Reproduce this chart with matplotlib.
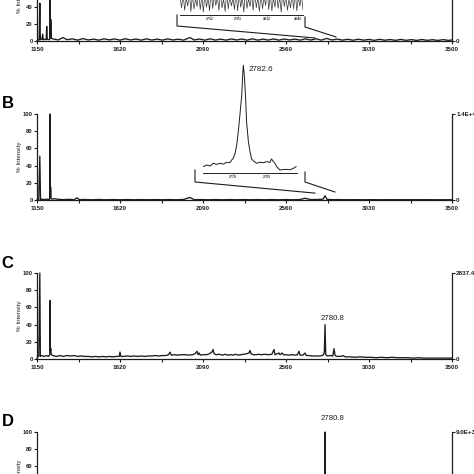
import numpy as np
import matplotlib
matplotlib.use("Agg")
import matplotlib.pyplot as plt
from matplotlib.lines import Line2D

plt.rcParams['font.family'] = ['Liberation Sans', 'DejaVu Sans']
plt.rcParams['font.weight'] = 'bold'

# ---------------- data ----------------
xticks_major = [1150, 1620, 2090, 2560, 3030, 3500]
xticks_minor = [1385, 1855, 2325, 2795, 3265]
yticks = [0, 20, 40, 60, 80, 100]

# Panel A (only lower part visible)
A_mz = [1150, 1158, 1162, 1166, 1169, 1174, 1178, 1182, 1186, 1195,
        1202, 1205, 1208, 1216, 1222, 1224, 1226, 1228, 1231,
        1240, 1270, 1297, 1320, 1350, 1380, 1410, 1440, 1470, 1500,
        1530, 1560, 1590, 1620, 1650, 1680, 1710, 1740, 1770, 1800,
        1830, 1860, 1890, 1920, 1950, 1980, 2016, 2040, 2070, 2100,
        2130, 2160, 2190, 2220, 2250, 2280, 2310, 2340, 2370, 2400,
        2430, 2460, 2490, 2520, 2550, 2580, 2610, 2640, 2670, 2700,
        2730, 2760, 2790, 2820, 2850, 2880, 2910, 2940, 2970, 3000,
        3030, 3060, 3090, 3120, 3150, 3180, 3210, 3240, 3270, 3300,
        3330, 3360, 3390, 3420, 3450, 3480, 3500]
A_int = [0, 1.5, 1, 44, 1.5, 2, 1.5, 8, 1.5, 2,
         1.5, 17, 2, 1.5, 2, 100, 4, 25, 3,
         2.5, 1.2, 4, 1.5, 2.5, 1, 2.8, 1.2, 2.2, 1,
         2.5, 1.3, 2.4, 1, 2.6, 1.2, 2.3, 1, 2.5, 1.1,
         2.2, 1, 2.4, 1.2, 2.1, 1, 4, 1.2, 2.3, 1,
         2.5, 1.1, 2.2, 1, 2.4, 1.2, 2.3, 1, 2.5, 1,
         2.2, 1.1, 2.4, 1, 2.3, 1.2, 2.2, 1, 2.5, 1.1,
         2.6, 1, 3, 1.2, 2.2, 1, 2, 0.9, 2.1, 1,
         1.8, 0.8, 1.9, 0.9, 1.7, 0.8, 1.8, 0.8, 1.6, 0.7,
         1.7, 0.8, 1.5, 0.7, 1.6, 0.7, 1.2]

# Panel A inset: dense noise (only its lower edge is visible)
IA_noise = [30, 12, 35, 8, 28, 15, 40, 6, 33, 10, 27, 14, 38, 9, 31, 5,
            36, 13, 29, 7, 42, 11, 34, 16, 30, 8, 37, 12, 26, 6, 39, 10,
            32, 15, 28, 9, 41, 7, 35, 13, 30, 5, 38, 11, 27, 14, 33, 8,
            40, 12, 29, 6, 36, 10, 31, 16, 43, 9, 34, 7, 28, 13, 37, 11,
            30, 5, 39, 14, 32, 8, 26, 12, 35, 10, 41, 7, 29, 15, 33, 9]
IA_ticks = [2752, 2781, 2812, 2845]

# Panel B
B_mz = [1150, 1160, 1166, 1170, 1178, 1190, 1205, 1218, 1222, 1224,
        1226, 1227, 1229, 1236, 1250,
        1270, 1300, 1330, 1360, 1376, 1390, 1420, 1460, 1500, 1540,
        1580, 1620, 1660, 1700, 1740, 1780, 1820, 1860, 1900, 1940,
        1980, 2016, 2040, 2080, 2120, 2160, 2200, 2240, 2280, 2320,
        2360, 2400, 2440, 2480, 2520, 2560, 2600, 2640, 2668, 2700,
        2740, 2770, 2781, 2792, 2820, 2860, 2900, 2950, 3000, 3050,
        3100, 3150, 3200, 3250, 3300, 3350, 3400, 3450, 3500]
B_int = [0, 0.5, 51, 0.5, 1, 0.5, 1, 0.5, 1, 100,
         3, 15, 2, 1, 1.5,
         0.8, 0.4, 0.8, 0.4, 2.5, 0.4, 0.6, 0.3, 0.6, 0.3,
         0.5, 0.3, 0.5, 0.3, 0.5, 0.3, 0.5, 0.3, 0.5, 0.3,
         0.6, 3, 0.4, 0.5, 0.3, 0.5, 0.3, 0.5, 0.3, 0.5,
         0.3, 0.5, 0.3, 0.5, 0.3, 0.5, 0.3, 0.6, 2, 0.5,
         0.6, 1, 5, 0.8, 0.4, 0.5, 0.3, 0.4, 0.3, 0.4,
         0.3, 0.4, 0.3, 0.4, 0.3, 0.4, 0.3, 0.3, 0.3]

# Panel B inset (zoom on 2782.6)
IB_mz = [2765.1, 2766.6, 2768.1, 2769.5, 2771.0, 2772.4, 2773.9, 2775.3, 2776.8, 2777.5,
         2778.2, 2779.0, 2779.7, 2780.4, 2781.1, 2781.9, 2782.3, 2782.6, 2783.0, 2783.6,
         2784.0, 2784.8, 2785.5, 2786.2, 2787.0, 2788.4, 2789.9, 2791.3, 2792.8, 2794.2,
         2794.9, 2795.7, 2796.4, 2797.1, 2798.6, 2800.0, 2801.5, 2802.9, 2804.4, 2805.6]
IB_int = [5.9, 7.4, 6.5, 9.0, 8.0, 9.0, 8.2, 9.9, 9.6, 12,
          13.6, 18.2, 25.9, 38.3, 53.7, 72.2, 90.7, 100, 90.7, 69,
          47.5, 29, 19.8, 13, 11.1, 9.0, 10, 9.5, 10.5, 9.8,
          13, 10.5, 9, 5.9, 2.8, 3.2, 3.4, 3.0, 4.3, 5.9]
IB_ticks = [2778, 2793]

# Panel C
C_mz = [1150, 1154, 1160, 1166, 1169, 1178, 1190, 1205, 1215, 1222,
        1224, 1226, 1228, 1231, 1240, 1260, 1280, 1300, 1320, 1340,
        1360, 1380, 1400, 1420, 1440, 1460, 1480, 1500, 1520, 1540,
        1560, 1580, 1600, 1615, 1620, 1625, 1640, 1660, 1680, 1700,
        1720, 1740, 1760, 1780, 1800, 1820, 1840, 1860, 1880, 1895,
        1903, 1910, 1930, 1950, 1970, 1990, 2010, 2030, 2045, 2056,
        2062, 2068, 2075, 2090, 2110, 2125, 2140, 2147, 2153, 2165,
        2180, 2200, 2215, 2230, 2245, 2260, 2275, 2290, 2305, 2320,
        2335, 2350, 2356, 2362, 2375, 2390, 2405, 2420, 2440, 2460,
        2480, 2492, 2498, 2510, 2520, 2526, 2538, 2545, 2560, 2575,
        2590, 2610, 2625, 2633, 2640, 2655, 2668, 2675, 2690, 2710,
        2730, 2750, 2765, 2772, 2777, 2781, 2785, 2795, 2810, 2825,
        2832, 2838, 2850, 2870, 2883, 2895, 2920, 2950, 2980, 3010,
        3040, 3070, 3100, 3130, 3160, 3190, 3220, 3250, 3280, 3310,
        3340, 3370, 3400, 3430, 3460, 3500]
C_int = [0, 3, 3, 100, 3, 4, 3, 4, 3, 5,
         68, 10, 12, 5, 4, 3, 4, 3, 4, 3.5,
         4, 3, 3.5, 3, 3, 2.5, 3, 2.5, 3, 2.5,
         3, 2.5, 3, 3, 8, 3, 3, 3.5, 3, 3.5,
         3, 3.5, 3, 3.5, 3.5, 4, 3.5, 4, 4, 5,
         8, 4.5, 5, 4.5, 5, 5, 4.5, 5, 6, 9,
         5, 7, 4.5, 5, 5, 6, 8, 11, 6, 5,
         5.5, 4.5, 5.5, 4.5, 5, 4.5, 5.5, 4.5, 5, 5.5,
         6, 7, 10, 6, 5, 5, 5.5, 5, 5.5, 5,
         5.5, 11, 5, 6, 7, 5, 7, 5, 5, 4.5,
         5, 4.5, 5, 9, 4.5, 4.5, 7, 4, 4, 3.5,
         3.5, 3.5, 4, 5, 8, 40, 5, 3.5, 4, 3.5,
         12, 4, 3, 3, 4, 2.5, 2.5, 2, 2.5, 2,
         2, 1.5, 2, 1.5, 2, 1.5, 1.5, 1.5, 1, 1.5,
         1, 1, 1, 1, 1, 1]

# Panel D (only upper part visible)
D_mz = [1150, 2700, 2776, 2779, 2780.8, 2782.5, 2786, 2900, 3500]
D_int = [0, 1, 2, 4, 100, 4, 2, 1, 0]

# ---------------- layout helpers ----------------
W = H = 474
INK = '#1c1c1c'


def rect(l, t, r, b):
    return [l / W, 1 - b / H, (r - l) / W, (b - t) / H]


fig = plt.figure(figsize=(4.74, 4.74), dpi=100)
fig.patch.set_facecolor('white')

panels = [
    dict(letter=None, mz=A_mz, it=A_int, bottom=41, top_lab=''),
    dict(letter='B', mz=B_mz, it=B_int, bottom=200, top_lab='1.4E+4'),
    dict(letter='C', mz=C_mz, it=C_int, bottom=359, top_lab='2837.4'),
    dict(letter='D', mz=D_mz, it=D_int, bottom=518, top_lab='9.0E+3'),
]

axes = []
for p in panels:
    b = p['bottom']
    ax = fig.add_axes(rect(37, b - 86, 452, b))
    ax.patch.set_alpha(0)
    ax.plot(p['mz'], p['it'], color=INK, lw=0.95, clip_on=False)
    ax.set_xlim(1150, 3500)
    ax.set_ylim(0, 100)
    ax.set_xticks(xticks_major)
    ax.set_xticklabels([str(t) for t in xticks_major])
    ax.set_xticks(xticks_minor, minor=True)
    ax.set_yticks(yticks)
    ax.tick_params(axis='x', which='both', direction='out', length=2.5,
                   width=0.8, labelsize=4.5, pad=1.5, colors=INK)
    ax.tick_params(axis='y', direction='out', length=2, width=0.8,
                   labelsize=4.2, pad=1, colors=INK)
    ax.spines['top'].set_visible(False)
    ax.spines['right'].set_visible(False)
    for s in ['left', 'bottom']:
        ax.spines[s].set_linewidth(0.9)
        ax.spines[s].set_color(INK)
    ax.set_ylabel('% Intensity', fontsize=4.5, labelpad=0.8, color=INK)

    ax2 = ax.twinx()
    ax2.set_ylim(0, 100)
    ax2.set_yticks([0, 100])
    ax2.set_yticklabels(['0', p['top_lab']])
    ax2.tick_params(axis='y', direction='out', length=2, width=0.8,
                    labelsize=4.5, pad=1, colors=INK)
    for s in ['left', 'top', 'bottom']:
        ax2.spines[s].set_visible(False)
    ax2.spines['right'].set_linewidth(0.9)
    ax2.spines['right'].set_color(INK)

    if p['letter']:
        fig.text(1.5 / W, 1 - (b - 86 - 10) / H, p['letter'], fontsize=12,
                 fontweight='bold', ha='left', va='center', color='black')
    axes.append(ax)

axA, axB, axC, axD = axes

axC.annotate('2780.8', xy=(2780.8, 40), xytext=(5.8, 4.5),
             textcoords='offset points', ha='center', va='center',
             fontsize=5.6, fontweight='normal', color=INK)
axD.annotate('2780.8', xy=(2780.8, 100), xytext=(5.8, 9.4),
             textcoords='offset points', ha='center', va='center',
             fontsize=5.6, fontweight='normal', color=INK)

# ---------------- inset A ----------------
insA = fig.add_axes(rect(180, -45, 303, 15))
insA.patch.set_alpha(0)
ia_x = np.linspace(2720, 2850, len(IA_noise))
insA.plot(ia_x, IA_noise, color='#333333', lw=0.5)
insA.set_xlim(2720, 2850)
insA.set_ylim(0, 100)
insA.set_yticks([])
insA.set_xticks(IA_ticks)
insA.set_xticklabels([str(t) for t in IA_ticks])
insA.tick_params(axis='x', length=1, width=0.5, labelsize=2.5, pad=0.5, colors='#333333')
for s in ['left', 'top', 'right']:
    insA.spines[s].set_visible(False)
insA.spines['bottom'].set_linewidth(0.6)

# ---------------- inset B ----------------
insB = fig.add_axes(rect(203, 65, 297, 173))
insB.patch.set_alpha(0)
insB.plot(IB_mz, IB_int, color=INK, lw=0.7)
insB.set_xlim(2765, 2806)
insB.set_ylim(0, 100)
insB.set_yticks([])
insB.set_xticks(IB_ticks)
insB.set_xticklabels([str(t) for t in IB_ticks])
insB.tick_params(axis='x', length=1, width=0.5, labelsize=2.5, pad=0.5, colors='#333333')
for s in ['left', 'top', 'right']:
    insB.spines[s].set_visible(False)
insB.spines['bottom'].set_linewidth(0.6)
insB.annotate('2782.6', xy=(2782.6, 100), xytext=(3.5, -3),
              textcoords='offset points', ha='left', va='center',
              fontsize=5.8, fontweight='normal', color=INK)


# ---------------- zoom brackets ----------------
def bracket(ax, x_px, y_top, y_bot, mz, val):
    ex, ey = fig.transFigure.inverted().transform(ax.transData.transform((mz, val)))
    fig.add_artist(Line2D([x_px / W, x_px / W, ex], [1 - y_top / H, 1 - y_bot / H, ey],
                          transform=fig.transFigure, color=INK, lw=0.8))


bracket(axA, 177, 15, 26, 2724, 3.5)
bracket(axA, 305, 17, 27, 2843, 4.7)
bracket(axB, 195, 170, 182, 2724, 8)
bracket(axB, 305, 172, 182, 2837, 9.3)

fig.savefig('out.png', dpi=100)
